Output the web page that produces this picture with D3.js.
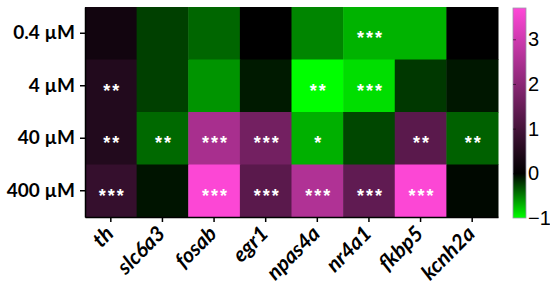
<!DOCTYPE html>
<html>
<head>
<meta charset="utf-8">
<script src="https://cdn.jsdelivr.net/npm/d3@7"></script>
<style>
  body { margin: 0; background: #fff; }
  .row-lab { font-family: Lato, sans-serif; font-weight: 700; font-size: 19px; }
  .col-lab { font-family: Lato, sans-serif; font-weight: 700; font-style: italic; font-size: 21px; }
  .cb-lab { font-family: "Liberation Sans", Arial, sans-serif; font-size: 20px; }
  .star { font-family: "Liberation Sans", Arial, sans-serif; font-weight: 700; font-size: 18px; letter-spacing: 2px; fill: #fff; }
</style>
</head>
<body>
<svg width="550" height="286"></svg>
<script>
var genes = ["th", "slc6a3", "fosab", "egr1", "npas4a", "nr4a1", "fkbp5", "kcnh2a"];
var doses = ["0.4 \u00b5M", "4 \u00b5M", "40 \u00b5M", "400 \u00b5M"];

// log2 fold change, one array per dose
var v04  = [0.26, -0.25, -0.4, 0.0, -0.52, -0.7, -0.7, 0.0];
var v4   = [0.5, -0.25, -0.58, -0.1, -1.0, -0.87, -0.22, -0.09];
var v40  = [0.5, -0.41, 2.44, 1.67, -0.69, -0.28, 1.3, -0.38];
var v400 = [0.77, -0.08, 3.65, 1.3, 2.55, 1.4, 3.65, -0.03];

var s04  = ["", "", "", "", "", "***", "", ""];
var s4   = ["**", "", "", "", "**", "***", "", ""];
var s40  = ["**", "**", "***", "***", "*", "", "**", "**"];
var s400 = ["***", "", "***", "***", "***", "***", "***", ""];

var cbTicks = [-1, 0, 1, 2, 3];

var values = [v04, v4, v40, v400];
var stars = [s04, s4, s40, s400];

var svg = d3.select("svg");
var mLeft = 85, mRight = 498, mTop = 7, mBottom = 217;

var x = d3.scaleBand().domain(genes).range([mLeft, mRight]);
var y = d3.scaleBand().domain(doses).range([mTop, mBottom]);

var color = d3.scaleLinear()
    .domain([-1, 0, 3.7])
    .range(["#00ff00", "#000000", "#ff48d8"])
    .clamp(true);

var cells = [];
values.forEach(function(row, i) {
  row.forEach(function(v, j) {
    cells.push({ dose: doses[i], gene: genes[j], v: v, s: stars[i][j] });
  });
});

svg.append("g").selectAll("rect")
  .data(cells)
  .enter().append("rect")
    .attr("x", function(d) { return x(d.gene); })
    .attr("y", function(d) { return y(d.dose); })
    .attr("width", x.bandwidth() + 0.5)
    .attr("height", y.bandwidth() + 0.5)
    .attr("fill", function(d) { return color(d.v); });

svg.append("g").selectAll("text")
  .data(cells.filter(function(d) { return d.s; }))
  .enter().append("text")
    .attr("class", "star")
    .attr("x", function(d) { return x(d.gene) + x.bandwidth() / 2 + 1.5; })
    .attr("y", function(d) { return y(d.dose) + y.bandwidth() / 2 + 11; })
    .attr("text-anchor", "middle")
    .text(function(d) { return d.s; });

// axes
var yAxis = svg.append("g")
    .attr("transform", "translate(" + mLeft + ",0)")
    .call(d3.axisLeft(y).tickSize(5).tickSizeOuter(0));
yAxis.select(".domain").attr("stroke-width", 1.5);
yAxis.selectAll("line").attr("stroke-width", 1.5);
yAxis.selectAll("text").attr("class", "row-lab").attr("fill", "#000").attr("x", -10);

var xAxis = svg.append("g")
    .attr("transform", "translate(0," + mBottom + ")")
    .call(d3.axisBottom(x).tickSize(5).tickSizeOuter(0));
xAxis.select(".domain").attr("stroke-width", 1.5);
xAxis.selectAll("line").attr("stroke-width", 1.5);
xAxis.selectAll("text")
    .attr("class", "col-lab")
    .attr("fill", "#000")
    .attr("text-anchor", "end")
    .attr("dy", null)
    .attr("y", 0)
    .attr("transform", "translate(4,18) rotate(-45)");

// color bar
var cbX = 513, cbW = 13;
var cbY = d3.scaleLinear().domain([-1, 3.7]).range([218, 8]);
var defs = svg.append("defs");
var grad = defs.append("linearGradient")
    .attr("id", "cb").attr("x1", 0).attr("y1", 1).attr("x2", 0).attr("y2", 0);
grad.selectAll("stop")
  .data(color.domain())
  .enter().append("stop")
    .attr("offset", function(d) { return (d + 1) / 4.7; })
    .attr("stop-color", function(d) { return color(d); });

svg.append("rect")
    .attr("x", cbX).attr("y", cbY(3.7))
    .attr("width", cbW).attr("height", cbY(-1) - cbY(3.7))
    .attr("fill", "url(#cb)")
    .attr("stroke", "#9a9aa8").attr("stroke-width", 0.8);

// small inner ticks on the bar
var cbIn = svg.append("g")
    .attr("transform", "translate(" + cbX + ",0)")
    .call(d3.axisLeft(cbY).tickValues(cbTicks.slice(1)).tickFormat("").tickSize(-3));
cbIn.select(".domain").remove();
cbIn.selectAll("line").attr("stroke", "#000").attr("stroke-opacity", 0.5);

var cbAxis = svg.append("g")
    .attr("transform", "translate(" + (cbX + cbW) + ",0)")
    .call(d3.axisRight(cbY).tickValues(cbTicks).tickFormat(d3.format("d")).tickSize(0));
cbAxis.select(".domain").remove();
cbAxis.selectAll("text").attr("class", "cb-lab").attr("fill", "#000").attr("x", 2);
</script>
</body>
</html>
